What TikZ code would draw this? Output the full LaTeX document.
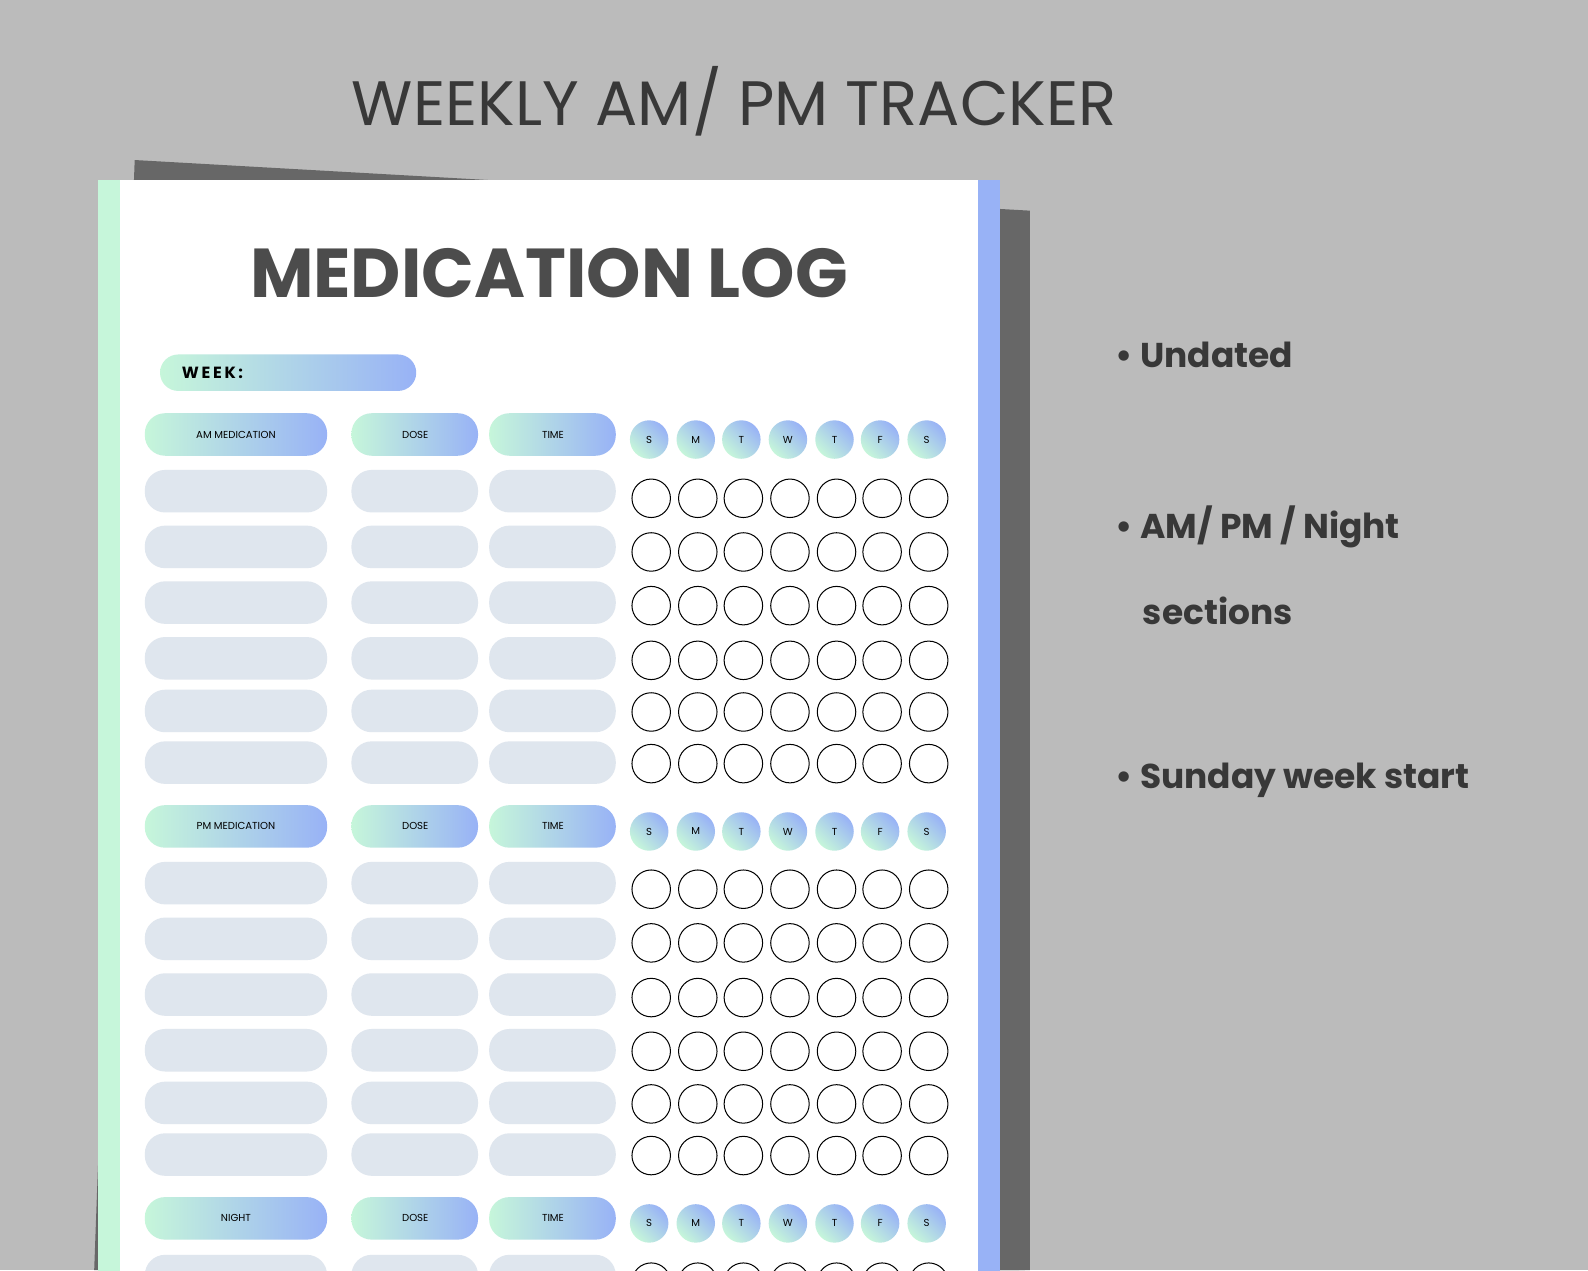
\documentclass[tikz,border=0pt]{standalone}
\usepackage{fontspec}
\setmainfont{Poppins}
\usetikzlibrary{shadings}
\definecolor{bg}{HTML}{BBBBBB}
\definecolor{ink}{HTML}{383838}
\definecolor{gA}{HTML}{C6F6DA}
\definecolor{bB}{HTML}{98B2F6}
\definecolor{pill}{HTML}{DFE6EE}
\tikzset{
  hdr/.style={left color=gA,right color=bB,rounded corners=20pt},
  emptypill/.style={fill=pill,rounded corners=20pt},
  tick/.style={draw=black,line width=1pt,fill=white},
  lbl/.style={font=\fontsize{10}{12}\selectfont,text=black},
  bul/.style={anchor=west,font=\fontsize{34}{40}\selectfont\bfseries,text=ink},
}
\begin{document}
\begin{tikzpicture}[x=1pt,y=-1pt]
\useasboundingbox (0,0) rectangle (1568,1254);
\clip (0,0) rectangle (1568,1254);
\fill[bg] (0,0) rectangle (1568,1254);
% shadow
\foreach \o/\c in {14/bg!85!black,8/bg!70!black,3/bg!55!black}{
  \fill[\c] (130+\o,155+\o) -- (1020-\o,205+\o) -- (1020-\o,1254) -- (90+\o,1254) -- cycle;}
\node[text=ink,font=\fontsize{60}{70}\selectfont] (title) at (725,100) {\resizebox{755pt}{!}{WEEKLY AM/ PM TRACKER}};
% paper
\fill[white] (97,178) rectangle (987,1260);
\fill[gA] (97,178) rectangle (118,1260);
\fill[bB] (966,178) rectangle (987,1260);
\node[text=ink!90] (mlog) at (542,270) {\resizebox{590pt}{!}{\bfseries MEDICATION LOG}};
\shade[hdr,rounded corners=18pt] (158,350) rectangle (411,386);
\node[anchor=west,font=\fontsize{16}{18}\selectfont\bfseries] (week) at (176,368) {W\,E\,E\,K\,:};
\def\days{S,M,T,W,T,F,S}
\def\dx{{641,687,732,778,824,869,915}}
\newcommand\medsec[4]{% header y, label, row list, circle list
  \shade[hdr] (143,#1-21) rectangle (323,#1+21);
  \node[lbl] (h#2) at (233,#1) {#2};
  \shade[hdr] (347,#1-21) rectangle (472,#1+21);
  \node[lbl] at (410,#1) {DOSE};
  \shade[hdr] (483,#1-21) rectangle (608,#1+21);
  \node[lbl] at (546,#1) {TIME};
  \foreach \d [count=\i from 0] in \days {
    \pgfmathsetmacro\xx{\dx[\i]}
    \shade[shading=axis,bottom color=gA,top color=bB,shading angle=-45] (\xx,#1+5) circle (19);
    \node[lbl] at (\xx,#1+5) {\d};}
  \foreach \ry in {#3} {
    \fill[emptypill] (143,\ry-21) rectangle (323,\ry+21);
    \fill[emptypill] (347,\ry-21) rectangle (472,\ry+21);
    \fill[emptypill] (483,\ry-21) rectangle (608,\ry+21);}
  \foreach \cy in {#4} {
    \foreach \i in {0,...,6} {\pgfmathsetmacro\xx{\dx[\i]}\draw[tick] (\xx+2,\cy) circle (19);}}
}
\medsec{429}{AM MEDICATION}{485,540,595,650,702,753}{492,545,598,652,703,754}
\medsec{816}{PM MEDICATION}{872,927,982,1037,1089,1140}{878,931,985,1038,1090,1141}
\medsec{1203}{NIGHT}{1260}{1266}
% bullets
\node[bul] (b1) at (1098,350) {• Undated};
\node[bul] (b2) at (1098,520) {• AM/ PM / Night};
\node[bul] (b3) at (1125,603) {sections};
\node[bul] (b4) at (1098,770) {• Sunday week start};
\end{tikzpicture}
\end{document}
